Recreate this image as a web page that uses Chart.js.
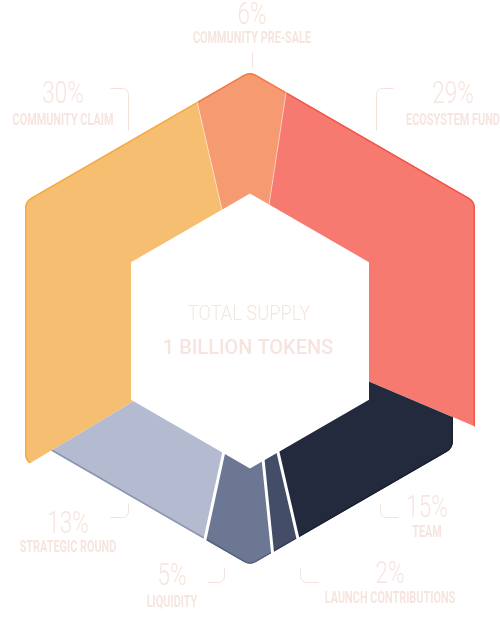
<!DOCTYPE html>
<html>
<head>
<meta charset="utf-8">
<script src="https://cdn.jsdelivr.net/npm/chart.js@4.4.0/dist/chart.umd.min.js"></script>
<style>
  html, body { margin: 0; padding: 0; background: #ffffff; }
  canvas { display: block; }
</style>
</head>
<body>
<canvas id="tokenChart" width="500" height="623"></canvas>
<script>
// token allocation, clockwise from the top
const labels = ['Community Pre-Sale', 'Ecosystem Fund', 'Team', 'Launch Contributions', 'Liquidity', 'Strategic Round', 'Community Claim'];
const shares = [6, 29, 15, 2, 5, 13, 30];
const centerLines = ['TOTAL SUPPLY', '1 BILLION TOKENS'];

// styles
const fillColors = ['#F69A72', '#F77A71', '#242A3D', '#434D68', '#6C7794', '#B4BBD0', '#F6BE71'];
const edgeColors = ['#F47A45', '#F2554A', '#1D2233', '#38415A', '#58637F', '#8C95B1', '#F5AA45'];
const ringOuter = [225, 225, 203, 203, 203, 203, 225]; // hexagon apothem per slice
const ringInner = 119;
const cornerR = 12;
const textColor = '#F6E5DF';
const lineColor = '#F1E1DA';
const fontFamily = 'Roboto, "Liberation Sans", sans-serif';

// where the captions go, and the little leader lines
const captionPos = [
  { x: 252, pctY: 24, nameY: 43, line: [[252, 52], [252, 67]] },
  { x: 453, pctY: 103, nameY: 125, line: [[393, 88], [376, 88], [376, 130]] },
  { x: 427, pctY: 517, nameY: 537, line: [[380, 503], [380, 517], [398, 517]] },
  { x: 390, pctY: 583, nameY: 603, line: [[300, 568], [300, 582], [318, 582]] },
  { x: 172, pctY: 585, nameY: 607, line: [[224, 568], [224, 582], [207, 582]] },
  { x: 68, pctY: 533, nameY: 552, line: [[128, 503], [128, 517], [110, 517]] },
  { x: 63, pctY: 103, nameY: 125, line: [[110, 88], [128, 88], [128, 130]] }
];

const hexPath = (ctx, cx, cy, apothem, corner) => {
  const R = apothem / Math.cos(Math.PI / 6);
  const pts = [];
  for (let k = 0; k < 6; k++) {
    const a = (-90 + 60 * k) * Math.PI / 180;
    pts.push([cx + R * Math.cos(a), cy + R * Math.sin(a)]);
  }
  if (!corner) {
    ctx.moveTo(pts[0][0], pts[0][1]);
    for (let k = 1; k < 6; k++) ctx.lineTo(pts[k][0], pts[k][1]);
    ctx.closePath();
    return;
  }
  ctx.moveTo((pts[5][0] + pts[0][0]) / 2, (pts[5][1] + pts[0][1]) / 2);
  for (let k = 0; k < 6; k++) {
    const p = pts[k], n = pts[(k + 1) % 6];
    ctx.arcTo(p[0], p[1], n[0], n[1], corner);
  }
  ctx.closePath();
};

// clip every arc to its hexagonal ring and stroke the outer edge
const hexRing = {
  id: 'hexRing',
  beforeDatasetDraw(chart, args) {
    args.meta.data.forEach((arc, i) => {
      if (arc.$hexWrapped) return;
      const baseDraw = arc.draw;
      arc.draw = function (ctx, area) {
        const p = this.getProps(['x', 'y', 'startAngle', 'endAngle', 'outerRadius'], true);
        ctx.save();
        ctx.beginPath();
        hexPath(ctx, p.x, p.y, ringOuter[i], cornerR);
        hexPath(ctx, p.x, p.y, ringInner, 0);
        ctx.clip('evenodd');
        baseDraw.call(this, ctx, area);
        ctx.beginPath();
        ctx.moveTo(p.x, p.y);
        ctx.arc(p.x, p.y, p.outerRadius, p.startAngle, p.endAngle);
        ctx.closePath();
        ctx.clip();
        ctx.beginPath();
        hexPath(ctx, p.x, p.y, ringOuter[i], cornerR);
        ctx.lineWidth = 3;
        ctx.strokeStyle = edgeColors[i];
        ctx.stroke();
        ctx.restore();
      };
      arc.$hexWrapped = true;
    });
  },
  afterDatasetsDraw(chart) {
    const ctx = chart.ctx;
    const arcs = chart.getDatasetMeta(0).data;
    ctx.save();
    arcs.forEach((arc, i) => {
      const prev = (i + arcs.length - 1) % arcs.length;
      const bottomPair = ringOuter[i] < 210 && ringOuter[prev] < 210;
      const topPair = ringOuter[i] >= 210 && ringOuter[prev] >= 210;
      if (!bottomPair && !topPair) return;
      const p = arc.getProps(['x', 'y', 'startAngle'], true);
      ctx.beginPath();
      ctx.moveTo(p.x + Math.cos(p.startAngle) * (ringInner - 5), p.y + Math.sin(p.startAngle) * (ringInner - 5));
      ctx.lineTo(p.x + Math.cos(p.startAngle) * 262, p.y + Math.sin(p.startAngle) * 262);
      ctx.lineWidth = bottomPair ? 3 : 1;
      ctx.strokeStyle = bottomPair ? '#ffffff' : 'rgba(255,255,255,0.45)';
      ctx.stroke();
    });
    ctx.restore();
  }
};

const drawCondensed = (ctx, str, x, y, font, sx) => {
  ctx.save();
  ctx.translate(x, y);
  ctx.scale(sx, 1);
  ctx.font = font;
  ctx.textAlign = 'center';
  ctx.textBaseline = 'alphabetic';
  ctx.fillText(str, 0, 0);
  ctx.restore();
};

const captions = {
  id: 'captions',
  afterDraw(chart) {
    const ctx = chart.ctx;
    const arc0 = chart.getDatasetMeta(0).data[0];
    ctx.save();
    ctx.fillStyle = textColor;
    ctx.strokeStyle = lineColor;
    ctx.lineWidth = 1;
    labels.forEach((name, i) => {
      const pos = captionPos[i];
      drawCondensed(ctx, shares[i] + '%', pos.x, pos.pctY, '300 32px ' + fontFamily, 0.7);
      drawCondensed(ctx, name.toUpperCase(), pos.x, pos.nameY, 'bold 17px ' + fontFamily, 0.64);
      const pts = pos.line;
      ctx.beginPath();
      ctx.moveTo(pts[0][0] + 0.5, pts[0][1] + 0.5);
      for (let k = 1; k < pts.length; k++) {
        if (k < pts.length - 1) {
          ctx.arcTo(pts[k][0] + 0.5, pts[k][1] + 0.5, pts[k + 1][0] + 0.5, pts[k + 1][1] + 0.5, 6);
        } else {
          ctx.lineTo(pts[k][0] + 0.5, pts[k][1] + 0.5);
        }
      }
      ctx.stroke();
    });
    drawCondensed(ctx, centerLines[0], arc0.x - 1, arc0.y - 11, '300 21px ' + fontFamily, 0.87);
    drawCondensed(ctx, centerLines[1], arc0.x - 2, arc0.y + 23, '500 21px ' + fontFamily, 0.95);
    ctx.restore();
  }
};

const chart = new Chart(document.getElementById('tokenChart'), {
  type: 'doughnut',
  data: {
    labels: labels,
    datasets: [{
      data: shares,
      backgroundColor: fillColors,
      borderWidth: 0
    }]
  },
  options: {
    responsive: false,
    animation: false,
    devicePixelRatio: 1,
    rotation: -13,
    cutout: 0,
    radius: 300,
    layout: { padding: { top: 39, bottom: 0, left: 0, right: 0 } },
    plugins: {
      legend: { display: false },
      tooltip: { enabled: false }
    }
  },
  plugins: [hexRing, captions]
});
</script>
</body>
</html>
